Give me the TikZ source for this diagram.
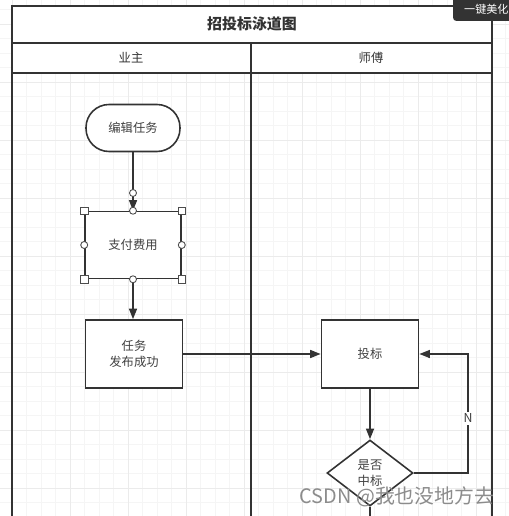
\documentclass[tikz,border=0pt]{standalone}
\usepackage{fontspec}
\setmainfont{Noto Sans CJK SC}
\usetikzlibrary{arrows.meta,shapes.geometric}

\begin{document}
\begin{tikzpicture}[x=0.02cm, y=-0.02cm,
    font=\fontsize{7}{9}\selectfont,
    >={Triangle[width=4.5pt,length=6pt]},
    lane/.style={draw=black!80, line width=0.9pt},
    box/.style={draw=black!80, line width=0.9pt, fill=white, text=black!75,
      minimum width=1.94cm, minimum height=1.36cm, inner sep=0pt, align=center},
    term/.style={box, rounded corners=0.46cm, minimum width=1.88cm, minimum height=0.94cm},
    decision/.style={draw=black!80, line width=0.9pt, fill=white, text=black!75, diamond,
      minimum width=1.72cm, minimum height=1.32cm, inner sep=0pt, align=center},
    flow/.style={->, draw=black!80, line width=0.9pt},
    grip/.style={draw=black!70, fill=white, line width=0.5pt, minimum size=0.15cm, inner sep=0pt},
    knob/.style={grip, circle, minimum size=0.14cm},
    minor/.style={draw=black!4, line width=0.4pt},
    major/.style={draw=black!8, line width=0.5pt}]

    \useasboundingbox (0,0) rectangle (509,516);
    \fill[white] (0,0) rectangle (509,516);

    % grid
    \foreach \i in {-1,...,35} {
        \draw[minor] ({12+14.5*\i},0) -- ({12+14.5*\i},516);
        \draw[minor] (0,{24+14.5*(\i-1)}) -- (509,{24+14.5*(\i-1)});
    }
    \foreach \i in {0,...,9} {
        \draw[major] ({12+58*\i},0) -- ({12+58*\i},516);
        \draw[major] (0,{24+58*(\i-1)}) -- (509,{24+58*(\i-1)});
    }

    % lanes
    \fill[white] (12,6) rectangle (492,73);
    \draw[lane] (12,516) -- (12,6) -- (492,6) -- (492,516);
    \draw[lane] (12,43) -- (492,43);
    \draw[lane] (12,73) -- (492,73);
    \draw[lane] (251,43) -- (251,516);

    \node[text=black!80, font=\fontsize{8.5}{10}\selectfont\bfseries] (title) at (252,24) {招投标泳道图};
    \node[text=black!80] (owner) at (131,58) {业主};
    \node[text=black!80] (master) at (371,58) {师傅};

    % steps
    \node[term] (a) at (133,128) {编辑任务};
    \node[box, minimum width=1.92cm, minimum height=1.34cm] (b) at (133,245) {支付费用};
    \node[box] (c) at (134,354) {任务\\发布成功};
    \node[box] (d) at (370,354) {投标};
    \node[decision] (e) at (370,473) {是否\\中标};
    \coordinate (n) at (468,473);
    \coordinate (g) at (370,516);

    \draw[flow] (a) -- (b);
    \draw[flow] (b.south) -- (b.south |- c.north);
    \draw[flow] (c) -- (d);
    \draw[flow] (d) -- (e);
    \draw[flow] (e.east) -- (n) |- node[pos=0.23, fill=white, inner sep=1pt, text=black!75] {N} (d.east);
    \draw[lane] (e.south) -- (g);

    % selection handles
    \node[knob] (k) at (133,193) {};
    \foreach \p in {north west, north east, south west, south east}
        \node[grip] at (b.\p) {};
    \foreach \p in {north, south, east, west}
        \node[knob] at (b.\p) {};

    % tooltip and watermark
    \fill[black!80, rounded corners=2pt] (453,-4) rectangle (520,21);
    \node[text=white, font=\fontsize{6.3}{7}\selectfont, anchor=west] (tip) at (458,9) {一键美化.};
    \node[text=black!45, font=\fontsize{11.3}{12}\selectfont] (mark) at (397,497) {CSDN @我也没地方去};

\end{tikzpicture}
\end{document}
